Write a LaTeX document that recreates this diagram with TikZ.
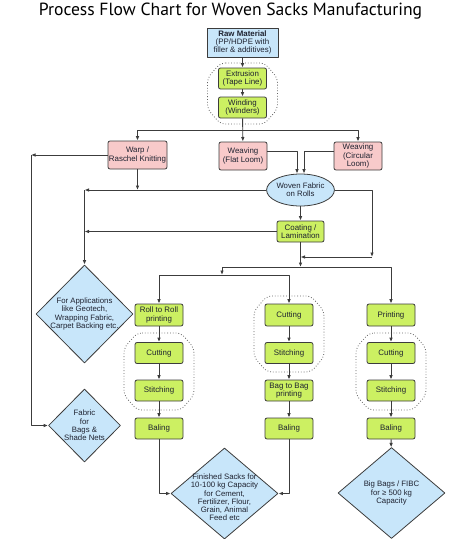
\documentclass[tikz,border=0pt]{standalone}
\usepackage{fontspec}
\setmainfont{Liberation Sans}
\newfontfamily\titlefont{PT Sans}
\usetikzlibrary{shapes.geometric,arrows.meta}
\definecolor{boxblue}{HTML}{C8E6FA}
\definecolor{boxgreen}{HTML}{CCF062}
\definecolor{boxpink}{HTML}{F8CACA}
\definecolor{edge}{HTML}{3C3C3C}
\definecolor{txt}{HTML}{1E2230}
\begin{document}
\begin{tikzpicture}[x=1pt, y=-1pt, line join=round, >={Latex[length=4.5pt,width=3.6pt]},
 wire/.style={draw=edge, line width=0.9pt},
 flow/.style={wire, ->},
 box/.style={draw=edge, line width=0.8pt, rounded corners=2pt, inner sep=0pt, align=center, text=txt, font=\fontsize{7.9}{8.4}\selectfont},
 gbox/.style={box, fill=boxgreen, minimum width=48, minimum height=21},
 pbox/.style={box, fill=boxpink, minimum width=48, minimum height=28},
 dia/.style={diamond, draw=edge, line width=0.8pt, fill=boxblue, inner sep=0pt},
 dtext/.style={align=center, text=txt, font=\fontsize{7.8}{8.2}\selectfont},
 grp/.style={draw=edge!80, dotted, line width=0.8pt, rounded corners=5pt}]
\useasboundingbox (0,0) rectangle (474,539);
\node[font=\titlefont\fontsize{17.6}{20}\selectfont] (title) at (230.5,11) {Process Flow Chart for Woven Sacks Manufacturing};
\foreach \cx/\ty/\by in {242.5/63/124, 159/333/410, 289/296/372, 391/333/410}
 \draw[grp] (\cx-22,\ty) -- (\cx+22,\ty) -- (\cx+35,\ty+15) -- (\cx+35,\by-15) -- (\cx+22,\by)
 -- (\cx-22,\by) -- (\cx-35,\by-15) -- (\cx-35,\ty+15) -- cycle;
\node[box, fill=boxblue, minimum width=71, minimum height=29, rounded corners=0pt] (raw) at (242.5,42.5)
 {\textbf{Raw Material}\\(PP/HDPE with\\filler \& additives)};
\node[gbox] (extr) at (242.5,78.5) {Extrusion\\(Tape Line)};
\node[gbox] (wind) at (242.5,107.5) {Winding\\(Winders)};
\node[pbox, minimum width=59] (warp) at (137.5,155) {Warp /\\Raschel Knitting};
\node[pbox] (flat) at (243,156) {Weaving\\(Flat Loom)};
\node[pbox] (circ) at (358,156) {Weaving\\(Circular\\Loom)};
\node[ellipse, draw=edge, line width=0.8pt, fill=boxblue, inner sep=0pt, minimum width=63, minimum height=32,
 align=center, text=txt, font=\fontsize{7.8}{8.4}\selectfont] (roll) at (300.5,190) {Woven Fabric\\on Rolls};
\node[gbox, minimum width=47] (coat) at (300.5,231.5) {Coating /\\Lamination};
\node[dia, minimum width=97, minimum height=98,
 label={[dtext]center:{For Applications\\like Geotech,\\Wrapping Fabric,\\Carpet Backing etc.}}] (geo) at (84.5,314) {};
\node[dia, minimum width=72, minimum height=73,
 label={[dtext]center:{Fabric\\for\\Bags \&\\Shade Nets}}] (fab) at (84.5,425.5) {};
\node[gbox, minimum height=22] (rtr) at (159,315) {Roll to Roll\\printing};
\node[gbox] (cutA) at (159,353) {Cutting};
\node[gbox] (stitA) at (159,390.5) {Stitching};
\node[gbox] (balA) at (159,428.5) {Baling};
\node[gbox, minimum height=22] (cutB) at (289,315) {Cutting};
\node[gbox] (stitB) at (289,353) {Stitching};
\node[gbox] (bagB) at (289,390.5) {Bag to Bag\\printing};
\node[gbox] (balB) at (289,428.5) {Baling};
\node[gbox, minimum height=22] (prC) at (391,315) {Printing};
\node[gbox] (cutC) at (391,353) {Cutting};
\node[gbox] (stitC) at (391,390.5) {Stitching};
\node[gbox] (balC) at (391,428.5) {Baling};
\node[dia, minimum width=107, minimum height=91,
 label={[dtext, yshift=-4pt]center:{Finished Sacks for\\10-100 kg Capacity\\for Cement,\\Fertilizer, Flour,\\Grain, Animal\\Feed etc}}] (sack) at (224.5,493.5) {};
\node[dia, minimum width=107, minimum height=91,
 label={[dtext]center:{Big Bags / FIBC\\for ≥ 500 kg\\Capacity}}] (big) at (391.5,493) {};
\draw[flow] (raw) -- (extr);
\draw[flow] (extr) -- (wind);
\draw[flow] (wind) -- (flat);
\coordinate (split) at (242.5,130);
\draw[flow] (split) -| (warp.north);
\draw[flow] (split) -| (circ.north);
\coordinate (knit) at (31,155);
\draw[flow] (warp.west) -- (knit);
\draw[flow] (knit) |- (fab.west);
\draw[flow] ([yshift=5pt]flat.east) -| ([xshift=-3.5pt]roll.north);
\draw[flow] ([yshift=5pt]circ.west) -| ([xshift=3.5pt]roll.north);
\draw[flow] (warp.south) -- (warp.south |- roll.west);
\coordinate (jA) at (geo.north |- roll.west);
\draw[flow] (roll.west) -- (jA);
\draw[flow] (jA) -- (geo.north);
\draw[flow] (coat.west) -- (geo.north |- coat.west);
\draw[flow] (roll) -- (coat);
\coordinate (jR) at (372,257);
\draw[flow] (roll.east) -| (jR);
\draw[flow] (jR) -- (coat.south |- jR);
\coordinate (jC) at (300.5,267);
\coordinate (jB) at (222,267);
\coordinate (jD) at (222,275);
\draw[flow] (coat.south) -- (jC);
\draw[wire] (jB) -- (jC);
\draw[flow] (jC) -| (prC.north);
\draw[flow] (jB) -- (jD);
\draw[flow] (jD) -| (rtr.north);
\draw[flow] (jD) -| (cutB.north);
\foreach \a/\b in {rtr/cutA, cutA/stitA, stitA/balA, cutB/stitB, stitB/bagB, bagB/balB, prC/cutC, cutC/stitC, stitC/balC}
 \draw[flow] (\a) -- (\b);
\draw[flow] (balA.south) |- (sack.west);
\draw[flow] (balB.south) |- (sack.east);
\draw[flow] (balC) -- (big);
\end{tikzpicture}
\end{document}
